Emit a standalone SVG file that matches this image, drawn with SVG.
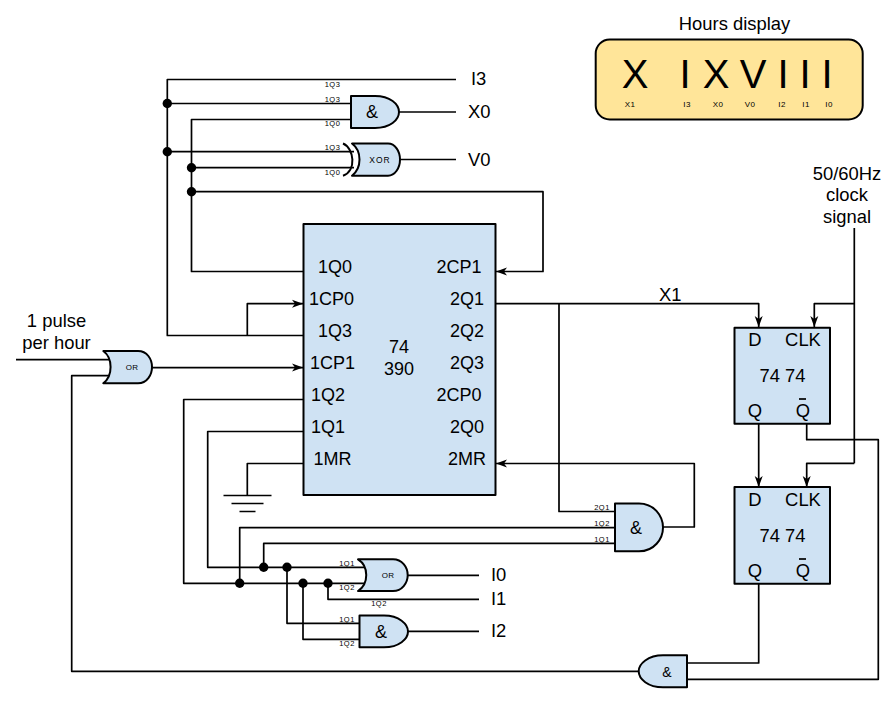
<svg xmlns="http://www.w3.org/2000/svg" width="895" height="702" viewBox="0 0 895 702">
<style>
text{font-family:"Liberation Sans",Arial,sans-serif;fill:#000}
.w{fill:none;stroke:#000;stroke-width:1.7;stroke-linejoin:round}
.g{fill:#cfe2f3;stroke:#000;stroke-width:2;stroke-linejoin:round}
.n{fill:none;stroke:#000;stroke-width:2}
.t{font-size:18.4px}
.m{text-anchor:middle}
.p{font-size:18px;text-anchor:middle}
.s{font-size:7.5px;text-anchor:middle;letter-spacing:.5px}
.l{font-size:8.5px;text-anchor:middle;letter-spacing:1px}
.b{font-size:40px;text-anchor:middle}
.d{font-size:8px;text-anchor:middle;letter-spacing:.3px}
</style>
<defs>
<marker id="a" markerUnits="userSpaceOnUse" markerWidth="12" markerHeight="10" refX="11" refY="5" orient="auto"><path d="M0,1 L11,5 L0,9 L3,5 z" fill="#000"/></marker>
<circle id="j" r="4.7" fill="#000"/>
</defs>
<g id="connectors">
<path class="w" d="M456,79.5 H167.3 V335.5 H303"/>
<path class="w" d="M167.3,103.5 H351"/>
<path class="w" d="M351,119.5 H191.5 V271.5 H303"/>
<path class="w" d="M399,112 H456"/>
<path class="w" d="M167.3,151.7 H354"/>
<path class="w" d="M191.5,167.7 H354"/>
<path class="w" d="M400,159.5 H456"/>
<path class="w" marker-end="url(#a)" d="M191.5,191.7 H543 V271.5 H496"/>
<path class="w" marker-end="url(#a)" d="M247.3,335.5 V303.7 H303"/>
<path class="w" marker-end="url(#a)" d="M152,367.6 H303"/>
<path class="w" d="M16,359.7 H109"/>
<path class="w" d="M638.7,671.3 H71.7 V375.7 H109"/>
<path class="w" d="M303,399.5 H183.7 V583.3 H365"/>
<path class="w" d="M303,431.5 H207.7 V567.3 H365"/>
<path class="w" d="M303,463.5 H247.3 V495.5"/>
<path class="w" d="M223.5,495.5 H271.5 M231.5,503.5 H263.5 M239.5,511.5 H255.5"/>
<path class="w" d="M239.7,583.3 V527.6 H615"/>
<path class="w" d="M263.7,567.3 V543.4 H615"/>
<path class="w" d="M287,567.3 V623.3 H360"/>
<path class="w" d="M303,583.3 V639.3 H360"/>
<path class="w" d="M328,583.3 V599.3 H479"/>
<path class="w" d="M407,575.3 H479"/>
<path class="w" d="M407,631.3 H479"/>
<path class="w" marker-end="url(#a)" d="M495,303.7 H758.7 V327"/>
<path class="w" d="M559,303.7 V511.5 H615"/>
<path class="w" marker-end="url(#a)" d="M663,527 H694.3 V463.5 H496"/>
<path class="w" d="M854.3,228 V463.3"/>
<path class="w" marker-end="url(#a)" d="M854.3,303.7 H814.3 V327"/>
<path class="w" marker-end="url(#a)" d="M854.3,463.3 H806.7 V487"/>
<path class="w" marker-end="url(#a)" d="M758.7,424 V487"/>
<path class="w" d="M806.7,424 V439.7 H878.3 V679.3 H687"/>
<path class="w" d="M758.7,584 V663 H687"/>
<use href="#j" x="167.3" y="103.5"/>
<use href="#j" x="167.3" y="151.7"/>
<use href="#j" x="191.5" y="167.7"/>
<use href="#j" x="191.5" y="191.7"/>
<use href="#j" x="239.7" y="583.3"/>
<use href="#j" x="263.7" y="567.3"/>
<use href="#j" x="287" y="567.3"/>
<use href="#j" x="303" y="583.3"/>
<use href="#j" x="328" y="583.3"/>
</g>
<g id="display">
<rect x="595.7" y="39.5" width="267" height="80" rx="14" fill="#ffe599" stroke="#000" stroke-width="2"/>
<text class="b" x="635" y="88">X</text>
<text class="b" x="685" y="88">I</text>
<text class="b" x="716" y="88">X</text>
<text class="b" x="753" y="88">V</text>
<text class="b" x="783" y="88">I</text>
<text class="b" x="805" y="88">I</text>
<text class="b" x="827" y="88">I</text>
<text class="d" x="630" y="107">X1</text>
<text class="d" x="687" y="107">I3</text>
<text class="d" x="718" y="107">X0</text>
<text class="d" x="750" y="107">V0</text>
<text class="d" x="782" y="107">I2</text>
<text class="d" x="806" y="107">I1</text>
<text class="d" x="829" y="107">I0</text>
<text class="t m" x="734.500" y="29.500">Hours display</text>
</g>
<g id="and-x0">
<path class="g" d="M351,96 H375 C390,96 399,104 399,112 C399,120 390,128 375,128 H351 Z"/>
<text class="m" x="372" y="118" font-size="18">&amp;</text>
<text class="s" x="332.500" y="87">1Q3</text>
<text class="s" x="332.500" y="102">1Q3</text>
<text class="s" x="332.500" y="126">1Q0</text>
</g>
<g id="xor-v0">
<path class="g" d="M352,143.5 H388 C395,143.5 400,151 400,159.5 C400,168 395,175.7 388,175.7 H352 C362,168 362,151 352,143.5 Z"/>
<path class="n" d="M343,143.5 C354,148 357,171 343,175.7"/>
<text class="l" x="380" y="163">XOR</text>
<text class="s" x="332.500" y="150">1Q3</text>
<text class="s" x="332.500" y="175">1Q0</text>
</g>
<g id="chip-74390">
<rect class="g" x="303.5" y="224" width="192" height="271"/>
<text class="p" x="335" y="273">1Q0</text>
<text class="p" x="331.500" y="305">1CP0</text>
<text class="p" x="335" y="337">1Q3</text>
<text class="p" x="332.500" y="369">1CP1</text>
<text class="p" x="328" y="401">1Q2</text>
<text class="p" x="328" y="433">1Q1</text>
<text class="p" x="332.500" y="465">1MR</text>
<text class="p" x="459" y="273">2CP1</text>
<text class="p" x="467" y="305">2Q1</text>
<text class="p" x="467" y="337">2Q2</text>
<text class="p" x="467" y="369">2Q3</text>
<text class="p" x="459" y="401">2CP0</text>
<text class="p" x="467" y="433">2Q0</text>
<text class="p" x="467" y="465">2MR</text>
<text class="p" x="399" y="353">74</text>
<text class="p" x="399" y="375">390</text>
</g>
<g id="or-pulse">
<path class="g" d="M103.300,351 H138 C147,351 152,359 152,367 C152,375 147,383.300 138,383.300 H103.300 C113,376 113,358 103.300,351 Z"/>
<text class="d" x="132" y="370">OR</text>
</g>
<g id="and-reset">
<path class="g" d="M615,503.500 H639 C654,503.500 663,516 663,527.500 C663,539 654,551.300 639,551.300 H615 Z"/>
<text class="m" x="636" y="534" font-size="18">&amp;</text>
<text class="s" x="602" y="510">2Q1</text>
<text class="s" x="602" y="526">1Q2</text>
<text class="s" x="602" y="542">1Q1</text>
</g>
<g id="or-i0">
<path class="g" d="M358,559.300 H393 C402,559.300 407.700,567 407.700,575.300 C407.700,583 402,591 393,591 H358 C369,584 369,566 358,559.300 Z"/>
<text class="d" x="388" y="578">OR</text>
<text class="s" x="347" y="566">1Q1</text>
<text class="s" x="347" y="590">1Q2</text>
<text class="s" x="379" y="606">1Q2</text>
</g>
<g id="and-i2">
<path class="g" d="M359.500,615.500 H384 C399,615.500 408,624 408,631.500 C408,639 399,647.300 384,647.300 H359.500 Z"/>
<text class="m" x="381" y="638" font-size="18">&amp;</text>
<text class="s" x="347" y="622">1Q1</text>
<text class="s" x="347" y="646">1Q2</text>
</g>
<g id="ff-1">
<rect class="g" x="734.500" y="327.700" width="95.500" height="96"/>
<text class="t m" x="755" y="345.500">D</text>
<text class="t m" x="803" y="345.500">CLK</text>
<text class="t m" x="782.500" y="381.500">74 74</text>
<text class="t m" x="755" y="417">Q</text>
<text class="t m" x="803" y="417">Q</text>
<path class="w" d="M799,399 H806"/>
</g>
<g id="ff-2">
<rect class="g" x="734.500" y="487" width="95.500" height="96.700"/>
<text class="t m" x="755" y="505.500">D</text>
<text class="t m" x="803" y="505.500">CLK</text>
<text class="t m" x="782.500" y="541.500">74 74</text>
<text class="t m" x="755" y="577">Q</text>
<text class="t m" x="803" y="577">Q</text>
<path class="w" d="M799,559 H806"/>
</g>
<g id="and-feedback">
<path class="g" d="M687,655.300 H663 C648,655.300 638.700,664 638.700,671.300 C638.700,679 648,687.300 663,687.300 H687 Z"/>
<text class="m" x="667" y="677" font-size="14">&amp;</text>
</g>
<g id="labels">
<text class="t" x="471" y="85">I3</text>
<text class="t" x="468" y="118">X0</text>
<text class="t" x="468" y="166">V0</text>
<text class="t" x="491" y="581">I0</text>
<text class="t" x="491" y="605">I1</text>
<text class="t" x="491" y="637">I2</text>
<text class="t" x="659" y="301">X1</text>
<text class="t m" x="847" y="180">50/60Hz</text>
<text class="t m" x="847" y="201">clock</text>
<text class="t m" x="847" y="223">signal</text>
<text class="t m" x="56.500" y="327">1 pulse</text>
<text class="t m" x="56.500" y="349">per hour</text>
</g>
</svg>
